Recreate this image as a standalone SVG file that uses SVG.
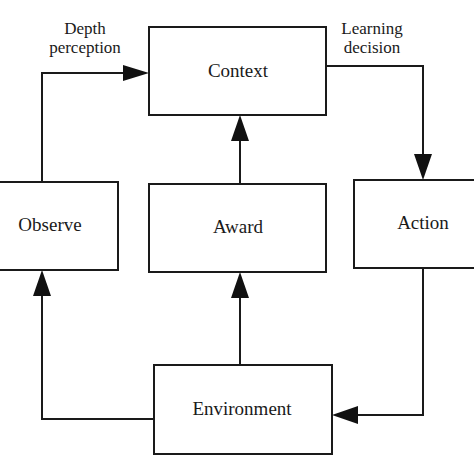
<svg xmlns="http://www.w3.org/2000/svg" width="474" height="474" viewBox="0 0 474 474">
<style>
.box{fill:#fff;stroke:#1a1a1a;stroke-width:2}
.ln{fill:none;stroke:#1a1a1a;stroke-width:2}
.ah{fill:#111}
.t{font-family:'Liberation Serif','DejaVu Serif','Times New Roman',serif;font-size:19px;fill:#1a1a1a;text-anchor:middle}
.s{font-size:17px}
</style>
<rect width="474" height="474" fill="#fff"/>
<g id="connectors">
<polyline class="ln" points="42,182 42,73 125,73"/>
<polygon class="ah" points="149,73 123,65 123,81"/>
<polyline class="ln" points="326,66 423,66 423,156"/>
<polygon class="ah" points="423,180 414,154 432,154"/>
<line class="ln" x1="240" y1="184" x2="240" y2="139"/>
<polygon class="ah" points="240,115 231,141 249,141"/>
<polyline class="ln" points="154,419 42,419 42,294"/>
<polygon class="ah" points="42,270 33,296 51,296"/>
<line class="ln" x1="240" y1="365" x2="240" y2="296"/>
<polygon class="ah" points="240,272 231,298 249,298"/>
<polyline class="ln" points="423,268 423,415 355,415"/>
<polygon class="ah" points="332,415 358,406 358,424"/>
</g>
<g id="context"><rect class="box" x="149" y="27" width="177" height="88"/><text class="t" x="238" y="77">Context</text></g>
<g id="observe"><rect class="box" x="-2" y="182" width="120" height="88"/><text class="t" x="50" y="231">Observe</text></g>
<g id="award"><rect class="box" x="149" y="184" width="177" height="88"/><text class="t" x="238" y="233">Award</text></g>
<g id="action"><rect class="box" x="354" y="180" width="130" height="88"/><text class="t" x="423" y="229">Action</text></g>
<g id="environment"><rect class="box" x="154" y="365" width="178" height="89"/><text class="t" x="242" y="415">Environment</text></g>
<g id="labels">
<text class="t s" x="85" y="34">Depth</text>
<text class="t s" x="85" y="53">perception</text>
<text class="t s" x="372" y="34">Learning</text>
<text class="t s" x="372" y="53">decision</text>
</g>
</svg>
